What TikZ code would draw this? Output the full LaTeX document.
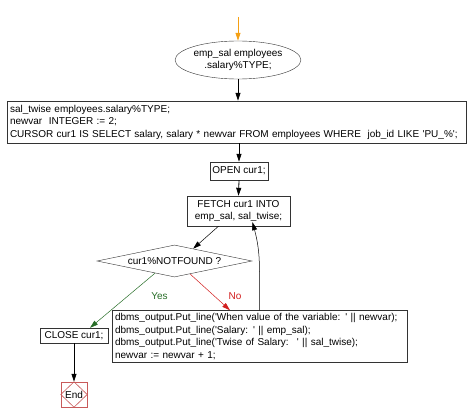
\documentclass[tikz,border=0pt]{standalone}
\usepackage{fontspec}
\setmainfont{Liberation Sans}
\usetikzlibrary{arrows.meta,positioning,shapes.geometric,calc}
\definecolor{yesgreen}{RGB}{40,110,40}
\definecolor{nored}{RGB}{210,30,30}
\definecolor{endred}{RGB}{200,90,90}
\definecolor{startorange}{RGB}{245,160,20}
\tikzset{
  block/.style={draw=black!80, fill=white, inner sep=2pt,
                font=\fontsize{10}{12.5}\selectfont},
  codebox/.style={block, align=left, text width=#1, inner sep=3pt},
  decision/.style={block, diamond, aspect=5, inner sep=0pt},
  flow/.style={-{Triangle[length=8pt,width=5pt]}, line width=0.8pt},
  branch/.style={-{Triangle[length=8pt,width=5pt]}, line width=0.5pt}
}
\def\q{\textquotesingle}
\begin{document}
\begin{tikzpicture}[x=1pt,y=-1pt]
  \useasboundingbox (0,0) rectangle (474,420);

  \coordinate (start) at (238,17);
  \node[block, ellipse, align=center, minimum width=112pt, minimum height=38pt, inner sep=0pt]
    (decl) at (238,60) {emp\_sal employees\\.salary\%TYPE;};
  \node[codebox=453pt, minimum height=42pt] (vars) at (236.5,122)
    {sal\_twise employees.salary\%TYPE;\\
     newvar~ INTEGER := 2;\\
     CURSOR cur1 IS SELECT salary, salary * newvar FROM employees WHERE~ job\_id LIKE \q PU\_\%\q;};
  \node[block, minimum width=58pt, minimum height=18pt] (open) at (239,171) {OPEN cur1;};
  \node[block, align=center, minimum width=103pt, minimum height=30pt] (fetch) at (238.5,211)
    {FETCH cur1 INTO\\emp\_sal, sal\_twise;};
  \node[decision, minimum width=155pt, minimum height=32pt] (test) at (174.5,261) {cur1\%NOTFOUND ?};
  \node[codebox=289pt, minimum height=51pt] (put) at (259.5,336.5)
    {dbms\_output.Put\_line(\q When value of the variable: \q\ || newvar);\\
     dbms\_output.Put\_line(\q Salary: \q\ || emp\_sal);\\
     dbms\_output.Put\_line(\q Twise of Salary:~ \q\ || sal\_twise);\\
     newvar := newvar + 1;};
  \node[block, minimum width=68pt, minimum height=15pt] (close) at (74,335.5) {CLOSE cur1;};
  \node[block, draw=endred, minimum width=26pt, minimum height=25pt, inner sep=0pt] (end) at (74,394.5) {End};
  \draw[endred, line width=0.6pt] (end.north) -- (end.east) -- (end.south) -- (end.west) -- cycle;

  % main flow
  \draw[flow, startorange] (start) -- (decl.north);
  \draw[flow] (decl.south) -- (decl.south |- vars.north);
  \draw[flow] (open.north |- vars.south) -- (open.north);
  \draw[flow] (open.south) -- (fetch.north);
  \draw[branch] ([xshift=-20pt]fetch.south) -- ($(test.north)!0.24!(test.east)$);

  % branches
  \draw[branch, yesgreen] ($(test.south)!0.25!(test.west)$) -- ([xshift=16pt]close.north)
    node[pos=0.42, right=20pt, font=\fontsize{10}{12}\selectfont] (yes) {Yes};
  \draw[branch, nored] ($(test.south)!0.2!(test.east)$) -- ([xshift=-29.5pt]put.north)
    node[pos=0.6, right=11pt, font=\fontsize{10}{12}\selectfont] (no) {No};
  \draw[branch] (put.north) -- ++(0,-38) to[out=90,in=-75] ([xshift=14pt,yshift=4pt]fetch.south);
  \draw[flow] (close.south) -- (end.north);
\end{tikzpicture}
\end{document}
